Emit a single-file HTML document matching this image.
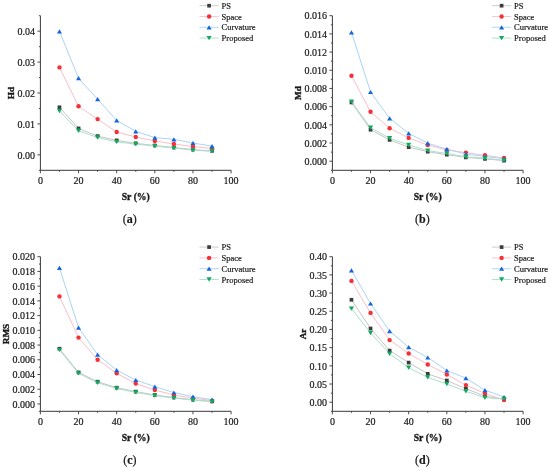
<!DOCTYPE html>
<html><head><meta charset="utf-8"><style>
html,body{margin:0;padding:0;background:#fff;}
svg{display:block;}
text{font-family:"Liberation Serif","Times New Roman",serif;font-size:10.0px;fill:#1a1a1a;stroke:#1a1a1a;stroke-width:0.2px;}
text.t{font-size:9.2px;font-weight:bold;stroke-width:0.35px;}
text.l{font-size:8.5px;}
text.c{font-size:12.0px;}
</style></head><body>
<svg width="550" height="470" viewBox="0 0 550 470">
<rect width="550" height="470" fill="#fff"/>
<path d="M40.40,15.70V170.30H231.10" fill="none" stroke="#3a3a3a" stroke-width="1.0"/>
<path d="M40.40,170.30v3.0 M59.47,170.30v1.5 M78.54,170.30v3.0 M97.61,170.30v1.5 M116.68,170.30v3.0 M135.75,170.30v1.5 M154.82,170.30v3.0 M173.89,170.30v1.5 M192.96,170.30v3.0 M212.03,170.30v1.5 M231.10,170.30v3.0 M40.40,170.30h-1.5 M40.40,154.84h-3.0 M40.40,139.38h-1.5 M40.40,123.92h-3.0 M40.40,108.46h-1.5 M40.40,93.00h-3.0 M40.40,77.54h-1.5 M40.40,62.08h-3.0 M40.40,46.62h-1.5 M40.40,31.16h-3.0 M40.40,15.70h-1.5" fill="none" stroke="#3a3a3a" stroke-width="0.9"/>
<text x="40.40" y="183.80" text-anchor="middle">0</text>
<text x="78.54" y="183.80" text-anchor="middle">20</text>
<text x="116.68" y="183.80" text-anchor="middle">40</text>
<text x="154.82" y="183.80" text-anchor="middle">60</text>
<text x="192.96" y="183.80" text-anchor="middle">80</text>
<text x="231.10" y="183.80" text-anchor="middle">100</text>
<text x="34.90" y="158.54" text-anchor="end">0.00</text>
<text x="34.90" y="127.62" text-anchor="end">0.01</text>
<text x="34.90" y="96.70" text-anchor="end">0.02</text>
<text x="34.90" y="65.78" text-anchor="end">0.03</text>
<text x="34.90" y="34.86" text-anchor="end">0.04</text>
<text class="t" x="135.75" y="199.50" text-anchor="middle" style="font-size:9.7px">Sr (%)</text>
<text class="t" transform="translate(14.10,93.00) rotate(-90)" text-anchor="middle">Hd</text>
<text class="c" x="129.80" y="223.10" text-anchor="middle">(<tspan font-weight="bold">a</tspan>)</text>
<polyline points="59.47,107.30 78.54,128.40 97.61,136.10 116.68,140.40 135.75,143.30 154.82,145.50 173.89,147.50 192.96,149.60 212.03,150.80" fill="none" stroke="#c6c6c6" stroke-width="1.0"/>
<rect x="57.62" y="105.45" width="3.70" height="3.70" fill="#3c3c3c"/>
<rect x="76.69" y="126.55" width="3.70" height="3.70" fill="#3c3c3c"/>
<rect x="95.76" y="134.25" width="3.70" height="3.70" fill="#3c3c3c"/>
<rect x="114.83" y="138.55" width="3.70" height="3.70" fill="#3c3c3c"/>
<rect x="133.90" y="141.45" width="3.70" height="3.70" fill="#3c3c3c"/>
<rect x="152.97" y="143.65" width="3.70" height="3.70" fill="#3c3c3c"/>
<rect x="172.04" y="145.65" width="3.70" height="3.70" fill="#3c3c3c"/>
<rect x="191.11" y="147.75" width="3.70" height="3.70" fill="#3c3c3c"/>
<rect x="210.18" y="148.95" width="3.70" height="3.70" fill="#3c3c3c"/>
<polyline points="59.47,67.40 78.54,106.30 97.61,119.10 116.68,132.00 135.75,137.00 154.82,141.00 173.89,144.00 192.96,146.50 212.03,148.50" fill="none" stroke="#f9bfca" stroke-width="1.0"/>
<circle cx="59.47" cy="67.40" r="2.2" fill="#f52f35"/>
<circle cx="78.54" cy="106.30" r="2.2" fill="#f52f35"/>
<circle cx="97.61" cy="119.10" r="2.2" fill="#f52f35"/>
<circle cx="116.68" cy="132.00" r="2.2" fill="#f52f35"/>
<circle cx="135.75" cy="137.00" r="2.2" fill="#f52f35"/>
<circle cx="154.82" cy="141.00" r="2.2" fill="#f52f35"/>
<circle cx="173.89" cy="144.00" r="2.2" fill="#f52f35"/>
<circle cx="192.96" cy="146.50" r="2.2" fill="#f52f35"/>
<circle cx="212.03" cy="148.50" r="2.2" fill="#f52f35"/>
<polyline points="59.47,31.30 78.54,78.20 97.61,99.20 116.68,120.40 135.75,131.40 154.82,137.60 173.89,139.30 192.96,143.00 212.03,146.20" fill="none" stroke="#aad4f7" stroke-width="1.0"/>
<polygon points="59.47,29.20 62.02,33.40 56.92,33.40" fill="#1464e0"/>
<polygon points="78.54,76.10 81.09,80.30 75.99,80.30" fill="#1464e0"/>
<polygon points="97.61,97.10 100.16,101.30 95.06,101.30" fill="#1464e0"/>
<polygon points="116.68,118.30 119.23,122.50 114.13,122.50" fill="#1464e0"/>
<polygon points="135.75,129.30 138.30,133.50 133.20,133.50" fill="#1464e0"/>
<polygon points="154.82,135.50 157.37,139.70 152.27,139.70" fill="#1464e0"/>
<polygon points="173.89,137.20 176.44,141.40 171.34,141.40" fill="#1464e0"/>
<polygon points="192.96,140.90 195.51,145.10 190.41,145.10" fill="#1464e0"/>
<polygon points="212.03,144.10 214.58,148.30 209.48,148.30" fill="#1464e0"/>
<polyline points="59.47,111.00 78.54,130.80 97.61,137.50 116.68,141.90 135.75,144.10 154.82,146.10 173.89,148.10 192.96,150.20 212.03,151.30" fill="none" stroke="#a9e0cb" stroke-width="1.0"/>
<polygon points="59.47,113.20 62.07,108.80 56.87,108.80" fill="#12a85e"/>
<polygon points="78.54,133.00 81.14,128.60 75.94,128.60" fill="#12a85e"/>
<polygon points="97.61,139.70 100.21,135.30 95.01,135.30" fill="#12a85e"/>
<polygon points="116.68,144.10 119.28,139.70 114.08,139.70" fill="#12a85e"/>
<polygon points="135.75,146.30 138.35,141.90 133.15,141.90" fill="#12a85e"/>
<polygon points="154.82,148.30 157.42,143.90 152.22,143.90" fill="#12a85e"/>
<polygon points="173.89,150.30 176.49,145.90 171.29,145.90" fill="#12a85e"/>
<polygon points="192.96,152.40 195.56,148.00 190.36,148.00" fill="#12a85e"/>
<polygon points="212.03,153.50 214.63,149.10 209.43,149.10" fill="#12a85e"/>
<path d="M199.50,5.70H218.70" stroke="#c6c6c6" stroke-width="0.9"/>
<rect x="207.25" y="3.85" width="3.70" height="3.70" fill="#3c3c3c"/>
<text class="l" x="221.60" y="8.70">PS</text>
<path d="M199.50,16.50H218.70" stroke="#f9bfca" stroke-width="0.9"/>
<circle cx="209.10" cy="16.50" r="2.2" fill="#f52f35"/>
<text class="l" x="221.60" y="19.50">Space</text>
<path d="M199.50,27.30H218.70" stroke="#aad4f7" stroke-width="0.9"/>
<polygon points="209.10,25.20 211.65,29.40 206.55,29.40" fill="#1464e0"/>
<text class="l" x="221.60" y="30.30">Curvature</text>
<path d="M199.50,38.10H218.70" stroke="#a9e0cb" stroke-width="0.9"/>
<polygon points="209.10,40.30 211.70,35.90 206.50,35.90" fill="#12a85e"/>
<text class="l" x="221.60" y="41.10">Proposed</text>
<path d="M332.40,15.70V170.30H523.10" fill="none" stroke="#3a3a3a" stroke-width="1.0"/>
<path d="M332.40,170.30v3.0 M351.47,170.30v1.5 M370.54,170.30v3.0 M389.61,170.30v1.5 M408.68,170.30v3.0 M427.75,170.30v1.5 M446.82,170.30v3.0 M465.89,170.30v1.5 M484.96,170.30v3.0 M504.03,170.30v1.5 M523.10,170.30v3.0 M332.40,170.30h-1.5 M332.40,161.21h-3.0 M332.40,152.11h-1.5 M332.40,143.02h-3.0 M332.40,133.92h-1.5 M332.40,124.83h-3.0 M332.40,115.74h-1.5 M332.40,106.64h-3.0 M332.40,97.55h-1.5 M332.40,88.45h-3.0 M332.40,79.36h-1.5 M332.40,70.26h-3.0 M332.40,61.17h-1.5 M332.40,52.08h-3.0 M332.40,42.98h-1.5 M332.40,33.89h-3.0 M332.40,24.79h-1.5 M332.40,15.70h-3.0" fill="none" stroke="#3a3a3a" stroke-width="0.9"/>
<text x="332.40" y="183.80" text-anchor="middle">0</text>
<text x="370.54" y="183.80" text-anchor="middle">20</text>
<text x="408.68" y="183.80" text-anchor="middle">40</text>
<text x="446.82" y="183.80" text-anchor="middle">60</text>
<text x="484.96" y="183.80" text-anchor="middle">80</text>
<text x="523.10" y="183.80" text-anchor="middle">100</text>
<text x="326.90" y="164.91" text-anchor="end">0.000</text>
<text x="326.90" y="146.72" text-anchor="end">0.002</text>
<text x="326.90" y="128.53" text-anchor="end">0.004</text>
<text x="326.90" y="110.34" text-anchor="end">0.006</text>
<text x="326.90" y="92.15" text-anchor="end">0.008</text>
<text x="326.90" y="73.96" text-anchor="end">0.010</text>
<text x="326.90" y="55.78" text-anchor="end">0.012</text>
<text x="326.90" y="37.59" text-anchor="end">0.014</text>
<text x="326.90" y="19.40" text-anchor="end">0.016</text>
<text class="t" x="427.75" y="199.50" text-anchor="middle" style="font-size:9.7px">Sr (%)</text>
<text class="t" transform="translate(301.30,93.00) rotate(-90)" text-anchor="middle">Md</text>
<text class="c" x="422.30" y="223.10" text-anchor="middle">(<tspan font-weight="bold">b</tspan>)</text>
<polyline points="351.47,102.50 370.54,129.70 389.61,139.90 408.68,147.20 427.75,151.70 446.82,154.70 465.89,157.40 484.96,158.90 504.03,160.60" fill="none" stroke="#c6c6c6" stroke-width="1.0"/>
<rect x="349.62" y="100.65" width="3.70" height="3.70" fill="#3c3c3c"/>
<rect x="368.69" y="127.85" width="3.70" height="3.70" fill="#3c3c3c"/>
<rect x="387.76" y="138.05" width="3.70" height="3.70" fill="#3c3c3c"/>
<rect x="406.83" y="145.35" width="3.70" height="3.70" fill="#3c3c3c"/>
<rect x="425.90" y="149.85" width="3.70" height="3.70" fill="#3c3c3c"/>
<rect x="444.97" y="152.85" width="3.70" height="3.70" fill="#3c3c3c"/>
<rect x="464.04" y="155.55" width="3.70" height="3.70" fill="#3c3c3c"/>
<rect x="483.11" y="157.05" width="3.70" height="3.70" fill="#3c3c3c"/>
<rect x="502.18" y="158.75" width="3.70" height="3.70" fill="#3c3c3c"/>
<polyline points="351.47,75.80 370.54,111.80 389.61,128.20 408.68,137.90 427.75,145.00 446.82,149.90 465.89,152.60 484.96,155.30 504.03,158.00" fill="none" stroke="#f9bfca" stroke-width="1.0"/>
<circle cx="351.47" cy="75.80" r="2.2" fill="#f52f35"/>
<circle cx="370.54" cy="111.80" r="2.2" fill="#f52f35"/>
<circle cx="389.61" cy="128.20" r="2.2" fill="#f52f35"/>
<circle cx="408.68" cy="137.90" r="2.2" fill="#f52f35"/>
<circle cx="427.75" cy="145.00" r="2.2" fill="#f52f35"/>
<circle cx="446.82" cy="149.90" r="2.2" fill="#f52f35"/>
<circle cx="465.89" cy="152.60" r="2.2" fill="#f52f35"/>
<circle cx="484.96" cy="155.30" r="2.2" fill="#f52f35"/>
<circle cx="504.03" cy="158.00" r="2.2" fill="#f52f35"/>
<polyline points="351.47,32.30 370.54,92.00 389.61,118.30 408.68,133.40 427.75,143.20 446.82,149.20 465.89,154.00 484.96,156.50 504.03,158.60" fill="none" stroke="#aad4f7" stroke-width="1.0"/>
<polygon points="351.47,30.20 354.02,34.40 348.92,34.40" fill="#1464e0"/>
<polygon points="370.54,89.90 373.09,94.10 367.99,94.10" fill="#1464e0"/>
<polygon points="389.61,116.20 392.16,120.40 387.06,120.40" fill="#1464e0"/>
<polygon points="408.68,131.30 411.23,135.50 406.13,135.50" fill="#1464e0"/>
<polygon points="427.75,141.10 430.30,145.30 425.20,145.30" fill="#1464e0"/>
<polygon points="446.82,147.10 449.37,151.30 444.27,151.30" fill="#1464e0"/>
<polygon points="465.89,151.90 468.44,156.10 463.34,156.10" fill="#1464e0"/>
<polygon points="484.96,154.40 487.51,158.60 482.41,158.60" fill="#1464e0"/>
<polygon points="504.03,156.50 506.58,160.70 501.48,160.70" fill="#1464e0"/>
<polyline points="351.47,101.60 370.54,127.70 389.61,138.20 408.68,145.00 427.75,150.60 446.82,153.60 465.89,156.70 484.96,158.20 504.03,160.30" fill="none" stroke="#a9e0cb" stroke-width="1.0"/>
<polygon points="351.47,103.80 354.07,99.40 348.87,99.40" fill="#12a85e"/>
<polygon points="370.54,129.90 373.14,125.50 367.94,125.50" fill="#12a85e"/>
<polygon points="389.61,140.40 392.21,136.00 387.01,136.00" fill="#12a85e"/>
<polygon points="408.68,147.20 411.28,142.80 406.08,142.80" fill="#12a85e"/>
<polygon points="427.75,152.80 430.35,148.40 425.15,148.40" fill="#12a85e"/>
<polygon points="446.82,155.80 449.42,151.40 444.22,151.40" fill="#12a85e"/>
<polygon points="465.89,158.90 468.49,154.50 463.29,154.50" fill="#12a85e"/>
<polygon points="484.96,160.40 487.56,156.00 482.36,156.00" fill="#12a85e"/>
<polygon points="504.03,162.50 506.63,158.10 501.43,158.10" fill="#12a85e"/>
<path d="M492.00,5.70H511.20" stroke="#c6c6c6" stroke-width="0.9"/>
<rect x="499.75" y="3.85" width="3.70" height="3.70" fill="#3c3c3c"/>
<text class="l" x="514.10" y="8.70">PS</text>
<path d="M492.00,16.50H511.20" stroke="#f9bfca" stroke-width="0.9"/>
<circle cx="501.60" cy="16.50" r="2.2" fill="#f52f35"/>
<text class="l" x="514.10" y="19.50">Space</text>
<path d="M492.00,27.30H511.20" stroke="#aad4f7" stroke-width="0.9"/>
<polygon points="501.60,25.20 504.15,29.40 499.05,29.40" fill="#1464e0"/>
<text class="l" x="514.10" y="30.30">Curvature</text>
<path d="M492.00,38.10H511.20" stroke="#a9e0cb" stroke-width="0.9"/>
<polygon points="501.60,40.30 504.20,35.90 499.00,35.90" fill="#12a85e"/>
<text class="l" x="514.10" y="41.10">Proposed</text>
<path d="M40.40,256.70V411.30H231.10" fill="none" stroke="#3a3a3a" stroke-width="1.0"/>
<path d="M40.40,411.30v3.0 M59.47,411.30v1.5 M78.54,411.30v3.0 M97.61,411.30v1.5 M116.68,411.30v3.0 M135.75,411.30v1.5 M154.82,411.30v3.0 M173.89,411.30v1.5 M192.96,411.30v3.0 M212.03,411.30v1.5 M231.10,411.30v3.0 M40.40,411.30h-1.5 M40.40,403.94h-3.0 M40.40,396.58h-1.5 M40.40,389.21h-3.0 M40.40,381.85h-1.5 M40.40,374.49h-3.0 M40.40,367.13h-1.5 M40.40,359.77h-3.0 M40.40,352.40h-1.5 M40.40,345.04h-3.0 M40.40,337.68h-1.5 M40.40,330.32h-3.0 M40.40,322.96h-1.5 M40.40,315.60h-3.0 M40.40,308.23h-1.5 M40.40,300.87h-3.0 M40.40,293.51h-1.5 M40.40,286.15h-3.0 M40.40,278.79h-1.5 M40.40,271.42h-3.0 M40.40,264.06h-1.5 M40.40,256.70h-3.0" fill="none" stroke="#3a3a3a" stroke-width="0.9"/>
<text x="40.40" y="424.80" text-anchor="middle">0</text>
<text x="78.54" y="424.80" text-anchor="middle">20</text>
<text x="116.68" y="424.80" text-anchor="middle">40</text>
<text x="154.82" y="424.80" text-anchor="middle">60</text>
<text x="192.96" y="424.80" text-anchor="middle">80</text>
<text x="231.10" y="424.80" text-anchor="middle">100</text>
<text x="34.90" y="407.64" text-anchor="end">0.000</text>
<text x="34.90" y="392.91" text-anchor="end">0.002</text>
<text x="34.90" y="378.19" text-anchor="end">0.004</text>
<text x="34.90" y="363.47" text-anchor="end">0.006</text>
<text x="34.90" y="348.74" text-anchor="end">0.008</text>
<text x="34.90" y="334.02" text-anchor="end">0.010</text>
<text x="34.90" y="319.30" text-anchor="end">0.012</text>
<text x="34.90" y="304.57" text-anchor="end">0.014</text>
<text x="34.90" y="289.85" text-anchor="end">0.016</text>
<text x="34.90" y="275.12" text-anchor="end">0.018</text>
<text x="34.90" y="260.40" text-anchor="end">0.020</text>
<text class="t" x="135.75" y="440.50" text-anchor="middle" style="font-size:9.7px">Sr (%)</text>
<text class="t" transform="translate(8.70,334.00) rotate(-90)" text-anchor="middle">RMS</text>
<text class="c" x="129.80" y="464.10" text-anchor="middle">(<tspan font-weight="bold">c</tspan>)</text>
<polyline points="59.47,348.70 78.54,372.40 97.61,381.70 116.68,387.70 135.75,391.60 154.82,395.00 173.89,397.50 192.96,399.70 212.03,401.40" fill="none" stroke="#c6c6c6" stroke-width="1.0"/>
<rect x="57.62" y="346.85" width="3.70" height="3.70" fill="#3c3c3c"/>
<rect x="76.69" y="370.55" width="3.70" height="3.70" fill="#3c3c3c"/>
<rect x="95.76" y="379.85" width="3.70" height="3.70" fill="#3c3c3c"/>
<rect x="114.83" y="385.85" width="3.70" height="3.70" fill="#3c3c3c"/>
<rect x="133.90" y="389.75" width="3.70" height="3.70" fill="#3c3c3c"/>
<rect x="152.97" y="393.15" width="3.70" height="3.70" fill="#3c3c3c"/>
<rect x="172.04" y="395.65" width="3.70" height="3.70" fill="#3c3c3c"/>
<rect x="191.11" y="397.85" width="3.70" height="3.70" fill="#3c3c3c"/>
<rect x="210.18" y="399.55" width="3.70" height="3.70" fill="#3c3c3c"/>
<polyline points="59.47,296.40 78.54,337.60 97.61,359.80 116.68,373.20 135.75,383.60 154.82,390.00 173.89,395.00 192.96,398.20 212.03,400.60" fill="none" stroke="#f9bfca" stroke-width="1.0"/>
<circle cx="59.47" cy="296.40" r="2.2" fill="#f52f35"/>
<circle cx="78.54" cy="337.60" r="2.2" fill="#f52f35"/>
<circle cx="97.61" cy="359.80" r="2.2" fill="#f52f35"/>
<circle cx="116.68" cy="373.20" r="2.2" fill="#f52f35"/>
<circle cx="135.75" cy="383.60" r="2.2" fill="#f52f35"/>
<circle cx="154.82" cy="390.00" r="2.2" fill="#f52f35"/>
<circle cx="173.89" cy="395.00" r="2.2" fill="#f52f35"/>
<circle cx="192.96" cy="398.20" r="2.2" fill="#f52f35"/>
<circle cx="212.03" cy="400.60" r="2.2" fill="#f52f35"/>
<polyline points="59.47,267.80 78.54,327.60 97.61,354.70 116.68,370.20 135.75,380.00 154.82,386.60 173.89,392.50 192.96,396.70 212.03,399.60" fill="none" stroke="#aad4f7" stroke-width="1.0"/>
<polygon points="59.47,265.70 62.02,269.90 56.92,269.90" fill="#1464e0"/>
<polygon points="78.54,325.50 81.09,329.70 75.99,329.70" fill="#1464e0"/>
<polygon points="97.61,352.60 100.16,356.80 95.06,356.80" fill="#1464e0"/>
<polygon points="116.68,368.10 119.23,372.30 114.13,372.30" fill="#1464e0"/>
<polygon points="135.75,377.90 138.30,382.10 133.20,382.10" fill="#1464e0"/>
<polygon points="154.82,384.50 157.37,388.70 152.27,388.70" fill="#1464e0"/>
<polygon points="173.89,390.40 176.44,394.60 171.34,394.60" fill="#1464e0"/>
<polygon points="192.96,394.60 195.51,398.80 190.41,398.80" fill="#1464e0"/>
<polygon points="212.03,397.50 214.58,401.70 209.48,401.70" fill="#1464e0"/>
<polyline points="59.47,349.90 78.54,373.40 97.61,382.70 116.68,388.50 135.75,392.40 154.82,395.60 173.89,398.10 192.96,400.20 212.03,401.70" fill="none" stroke="#a9e0cb" stroke-width="1.0"/>
<polygon points="59.47,352.10 62.07,347.70 56.87,347.70" fill="#12a85e"/>
<polygon points="78.54,375.60 81.14,371.20 75.94,371.20" fill="#12a85e"/>
<polygon points="97.61,384.90 100.21,380.50 95.01,380.50" fill="#12a85e"/>
<polygon points="116.68,390.70 119.28,386.30 114.08,386.30" fill="#12a85e"/>
<polygon points="135.75,394.60 138.35,390.20 133.15,390.20" fill="#12a85e"/>
<polygon points="154.82,397.80 157.42,393.40 152.22,393.40" fill="#12a85e"/>
<polygon points="173.89,400.30 176.49,395.90 171.29,395.90" fill="#12a85e"/>
<polygon points="192.96,402.40 195.56,398.00 190.36,398.00" fill="#12a85e"/>
<polygon points="212.03,403.90 214.63,399.50 209.43,399.50" fill="#12a85e"/>
<path d="M199.50,247.10H218.70" stroke="#c6c6c6" stroke-width="0.9"/>
<rect x="207.25" y="245.25" width="3.70" height="3.70" fill="#3c3c3c"/>
<text class="l" x="221.60" y="250.10">PS</text>
<path d="M199.50,257.90H218.70" stroke="#f9bfca" stroke-width="0.9"/>
<circle cx="209.10" cy="257.90" r="2.2" fill="#f52f35"/>
<text class="l" x="221.60" y="260.90">Space</text>
<path d="M199.50,268.70H218.70" stroke="#aad4f7" stroke-width="0.9"/>
<polygon points="209.10,266.60 211.65,270.80 206.55,270.80" fill="#1464e0"/>
<text class="l" x="221.60" y="271.70">Curvature</text>
<path d="M199.50,279.50H218.70" stroke="#a9e0cb" stroke-width="0.9"/>
<polygon points="209.10,281.70 211.70,277.30 206.50,277.30" fill="#12a85e"/>
<text class="l" x="221.60" y="282.50">Proposed</text>
<path d="M332.40,256.70V411.30H523.10" fill="none" stroke="#3a3a3a" stroke-width="1.0"/>
<path d="M332.40,411.30v3.0 M351.47,411.30v1.5 M370.54,411.30v3.0 M389.61,411.30v1.5 M408.68,411.30v3.0 M427.75,411.30v1.5 M446.82,411.30v3.0 M465.89,411.30v1.5 M484.96,411.30v3.0 M504.03,411.30v1.5 M523.10,411.30v3.0 M332.40,411.30h-1.5 M332.40,402.21h-3.0 M332.40,393.11h-1.5 M332.40,384.02h-3.0 M332.40,374.92h-1.5 M332.40,365.83h-3.0 M332.40,356.74h-1.5 M332.40,347.64h-3.0 M332.40,338.55h-1.5 M332.40,329.45h-3.0 M332.40,320.36h-1.5 M332.40,311.26h-3.0 M332.40,302.17h-1.5 M332.40,293.08h-3.0 M332.40,283.98h-1.5 M332.40,274.89h-3.0 M332.40,265.79h-1.5 M332.40,256.70h-3.0" fill="none" stroke="#3a3a3a" stroke-width="0.9"/>
<text x="332.40" y="424.80" text-anchor="middle">0</text>
<text x="370.54" y="424.80" text-anchor="middle">20</text>
<text x="408.68" y="424.80" text-anchor="middle">40</text>
<text x="446.82" y="424.80" text-anchor="middle">60</text>
<text x="484.96" y="424.80" text-anchor="middle">80</text>
<text x="523.10" y="424.80" text-anchor="middle">100</text>
<text x="326.90" y="405.91" text-anchor="end">0.00</text>
<text x="326.90" y="387.72" text-anchor="end">0.05</text>
<text x="326.90" y="369.53" text-anchor="end">0.10</text>
<text x="326.90" y="351.34" text-anchor="end">0.15</text>
<text x="326.90" y="333.15" text-anchor="end">0.20</text>
<text x="326.90" y="314.96" text-anchor="end">0.25</text>
<text x="326.90" y="296.78" text-anchor="end">0.30</text>
<text x="326.90" y="278.59" text-anchor="end">0.35</text>
<text x="326.90" y="260.40" text-anchor="end">0.40</text>
<text class="t" x="427.75" y="440.50" text-anchor="middle" style="font-size:9.7px">Sr (%)</text>
<text class="t" transform="translate(306.30,334.00) rotate(-90)" text-anchor="middle">Ar</text>
<text class="c" x="422.30" y="464.10" text-anchor="middle">(<tspan font-weight="bold">d</tspan>)</text>
<polyline points="351.47,299.80 370.54,328.50 389.61,350.60 408.68,362.60 427.75,373.80 446.82,380.50 465.89,388.70 484.96,396.20 504.03,399.20" fill="none" stroke="#c6c6c6" stroke-width="1.0"/>
<rect x="349.62" y="297.95" width="3.70" height="3.70" fill="#3c3c3c"/>
<rect x="368.69" y="326.65" width="3.70" height="3.70" fill="#3c3c3c"/>
<rect x="387.76" y="348.75" width="3.70" height="3.70" fill="#3c3c3c"/>
<rect x="406.83" y="360.75" width="3.70" height="3.70" fill="#3c3c3c"/>
<rect x="425.90" y="371.95" width="3.70" height="3.70" fill="#3c3c3c"/>
<rect x="444.97" y="378.65" width="3.70" height="3.70" fill="#3c3c3c"/>
<rect x="464.04" y="386.85" width="3.70" height="3.70" fill="#3c3c3c"/>
<rect x="483.11" y="394.35" width="3.70" height="3.70" fill="#3c3c3c"/>
<rect x="502.18" y="397.35" width="3.70" height="3.70" fill="#3c3c3c"/>
<polyline points="351.47,280.90 370.54,312.90 389.61,340.10 408.68,353.50 427.75,364.50 446.82,374.50 465.89,385.10 484.96,393.50 504.03,400.00" fill="none" stroke="#f9bfca" stroke-width="1.0"/>
<circle cx="351.47" cy="280.90" r="2.2" fill="#f52f35"/>
<circle cx="370.54" cy="312.90" r="2.2" fill="#f52f35"/>
<circle cx="389.61" cy="340.10" r="2.2" fill="#f52f35"/>
<circle cx="408.68" cy="353.50" r="2.2" fill="#f52f35"/>
<circle cx="427.75" cy="364.50" r="2.2" fill="#f52f35"/>
<circle cx="446.82" cy="374.50" r="2.2" fill="#f52f35"/>
<circle cx="465.89" cy="385.10" r="2.2" fill="#f52f35"/>
<circle cx="484.96" cy="393.50" r="2.2" fill="#f52f35"/>
<circle cx="504.03" cy="400.00" r="2.2" fill="#f52f35"/>
<polyline points="351.47,270.30 370.54,303.50 389.61,331.10 408.68,347.20 427.75,357.50 446.82,370.50 465.89,378.20 484.96,390.20 504.03,397.00" fill="none" stroke="#aad4f7" stroke-width="1.0"/>
<polygon points="351.47,268.20 354.02,272.40 348.92,272.40" fill="#1464e0"/>
<polygon points="370.54,301.40 373.09,305.60 367.99,305.60" fill="#1464e0"/>
<polygon points="389.61,329.00 392.16,333.20 387.06,333.20" fill="#1464e0"/>
<polygon points="408.68,345.10 411.23,349.30 406.13,349.30" fill="#1464e0"/>
<polygon points="427.75,355.40 430.30,359.60 425.20,359.60" fill="#1464e0"/>
<polygon points="446.82,368.40 449.37,372.60 444.27,372.60" fill="#1464e0"/>
<polygon points="465.89,376.10 468.44,380.30 463.34,380.30" fill="#1464e0"/>
<polygon points="484.96,388.10 487.51,392.30 482.41,392.30" fill="#1464e0"/>
<polygon points="504.03,394.90 506.58,399.10 501.48,399.10" fill="#1464e0"/>
<polyline points="351.47,308.60 370.54,333.00 389.61,353.70 408.68,367.70 427.75,377.40 446.82,384.00 465.89,391.30 484.96,397.70 504.03,398.90" fill="none" stroke="#a9e0cb" stroke-width="1.0"/>
<polygon points="351.47,310.80 354.07,306.40 348.87,306.40" fill="#12a85e"/>
<polygon points="370.54,335.20 373.14,330.80 367.94,330.80" fill="#12a85e"/>
<polygon points="389.61,355.90 392.21,351.50 387.01,351.50" fill="#12a85e"/>
<polygon points="408.68,369.90 411.28,365.50 406.08,365.50" fill="#12a85e"/>
<polygon points="427.75,379.60 430.35,375.20 425.15,375.20" fill="#12a85e"/>
<polygon points="446.82,386.20 449.42,381.80 444.22,381.80" fill="#12a85e"/>
<polygon points="465.89,393.50 468.49,389.10 463.29,389.10" fill="#12a85e"/>
<polygon points="484.96,399.90 487.56,395.50 482.36,395.50" fill="#12a85e"/>
<polygon points="504.03,401.10 506.63,396.70 501.43,396.70" fill="#12a85e"/>
<path d="M492.00,247.10H511.20" stroke="#c6c6c6" stroke-width="0.9"/>
<rect x="499.75" y="245.25" width="3.70" height="3.70" fill="#3c3c3c"/>
<text class="l" x="514.10" y="250.10">PS</text>
<path d="M492.00,257.90H511.20" stroke="#f9bfca" stroke-width="0.9"/>
<circle cx="501.60" cy="257.90" r="2.2" fill="#f52f35"/>
<text class="l" x="514.10" y="260.90">Space</text>
<path d="M492.00,268.70H511.20" stroke="#aad4f7" stroke-width="0.9"/>
<polygon points="501.60,266.60 504.15,270.80 499.05,270.80" fill="#1464e0"/>
<text class="l" x="514.10" y="271.70">Curvature</text>
<path d="M492.00,279.50H511.20" stroke="#a9e0cb" stroke-width="0.9"/>
<polygon points="501.60,281.70 504.20,277.30 499.00,277.30" fill="#12a85e"/>
<text class="l" x="514.10" y="282.50">Proposed</text>
</svg>
</body></html>
